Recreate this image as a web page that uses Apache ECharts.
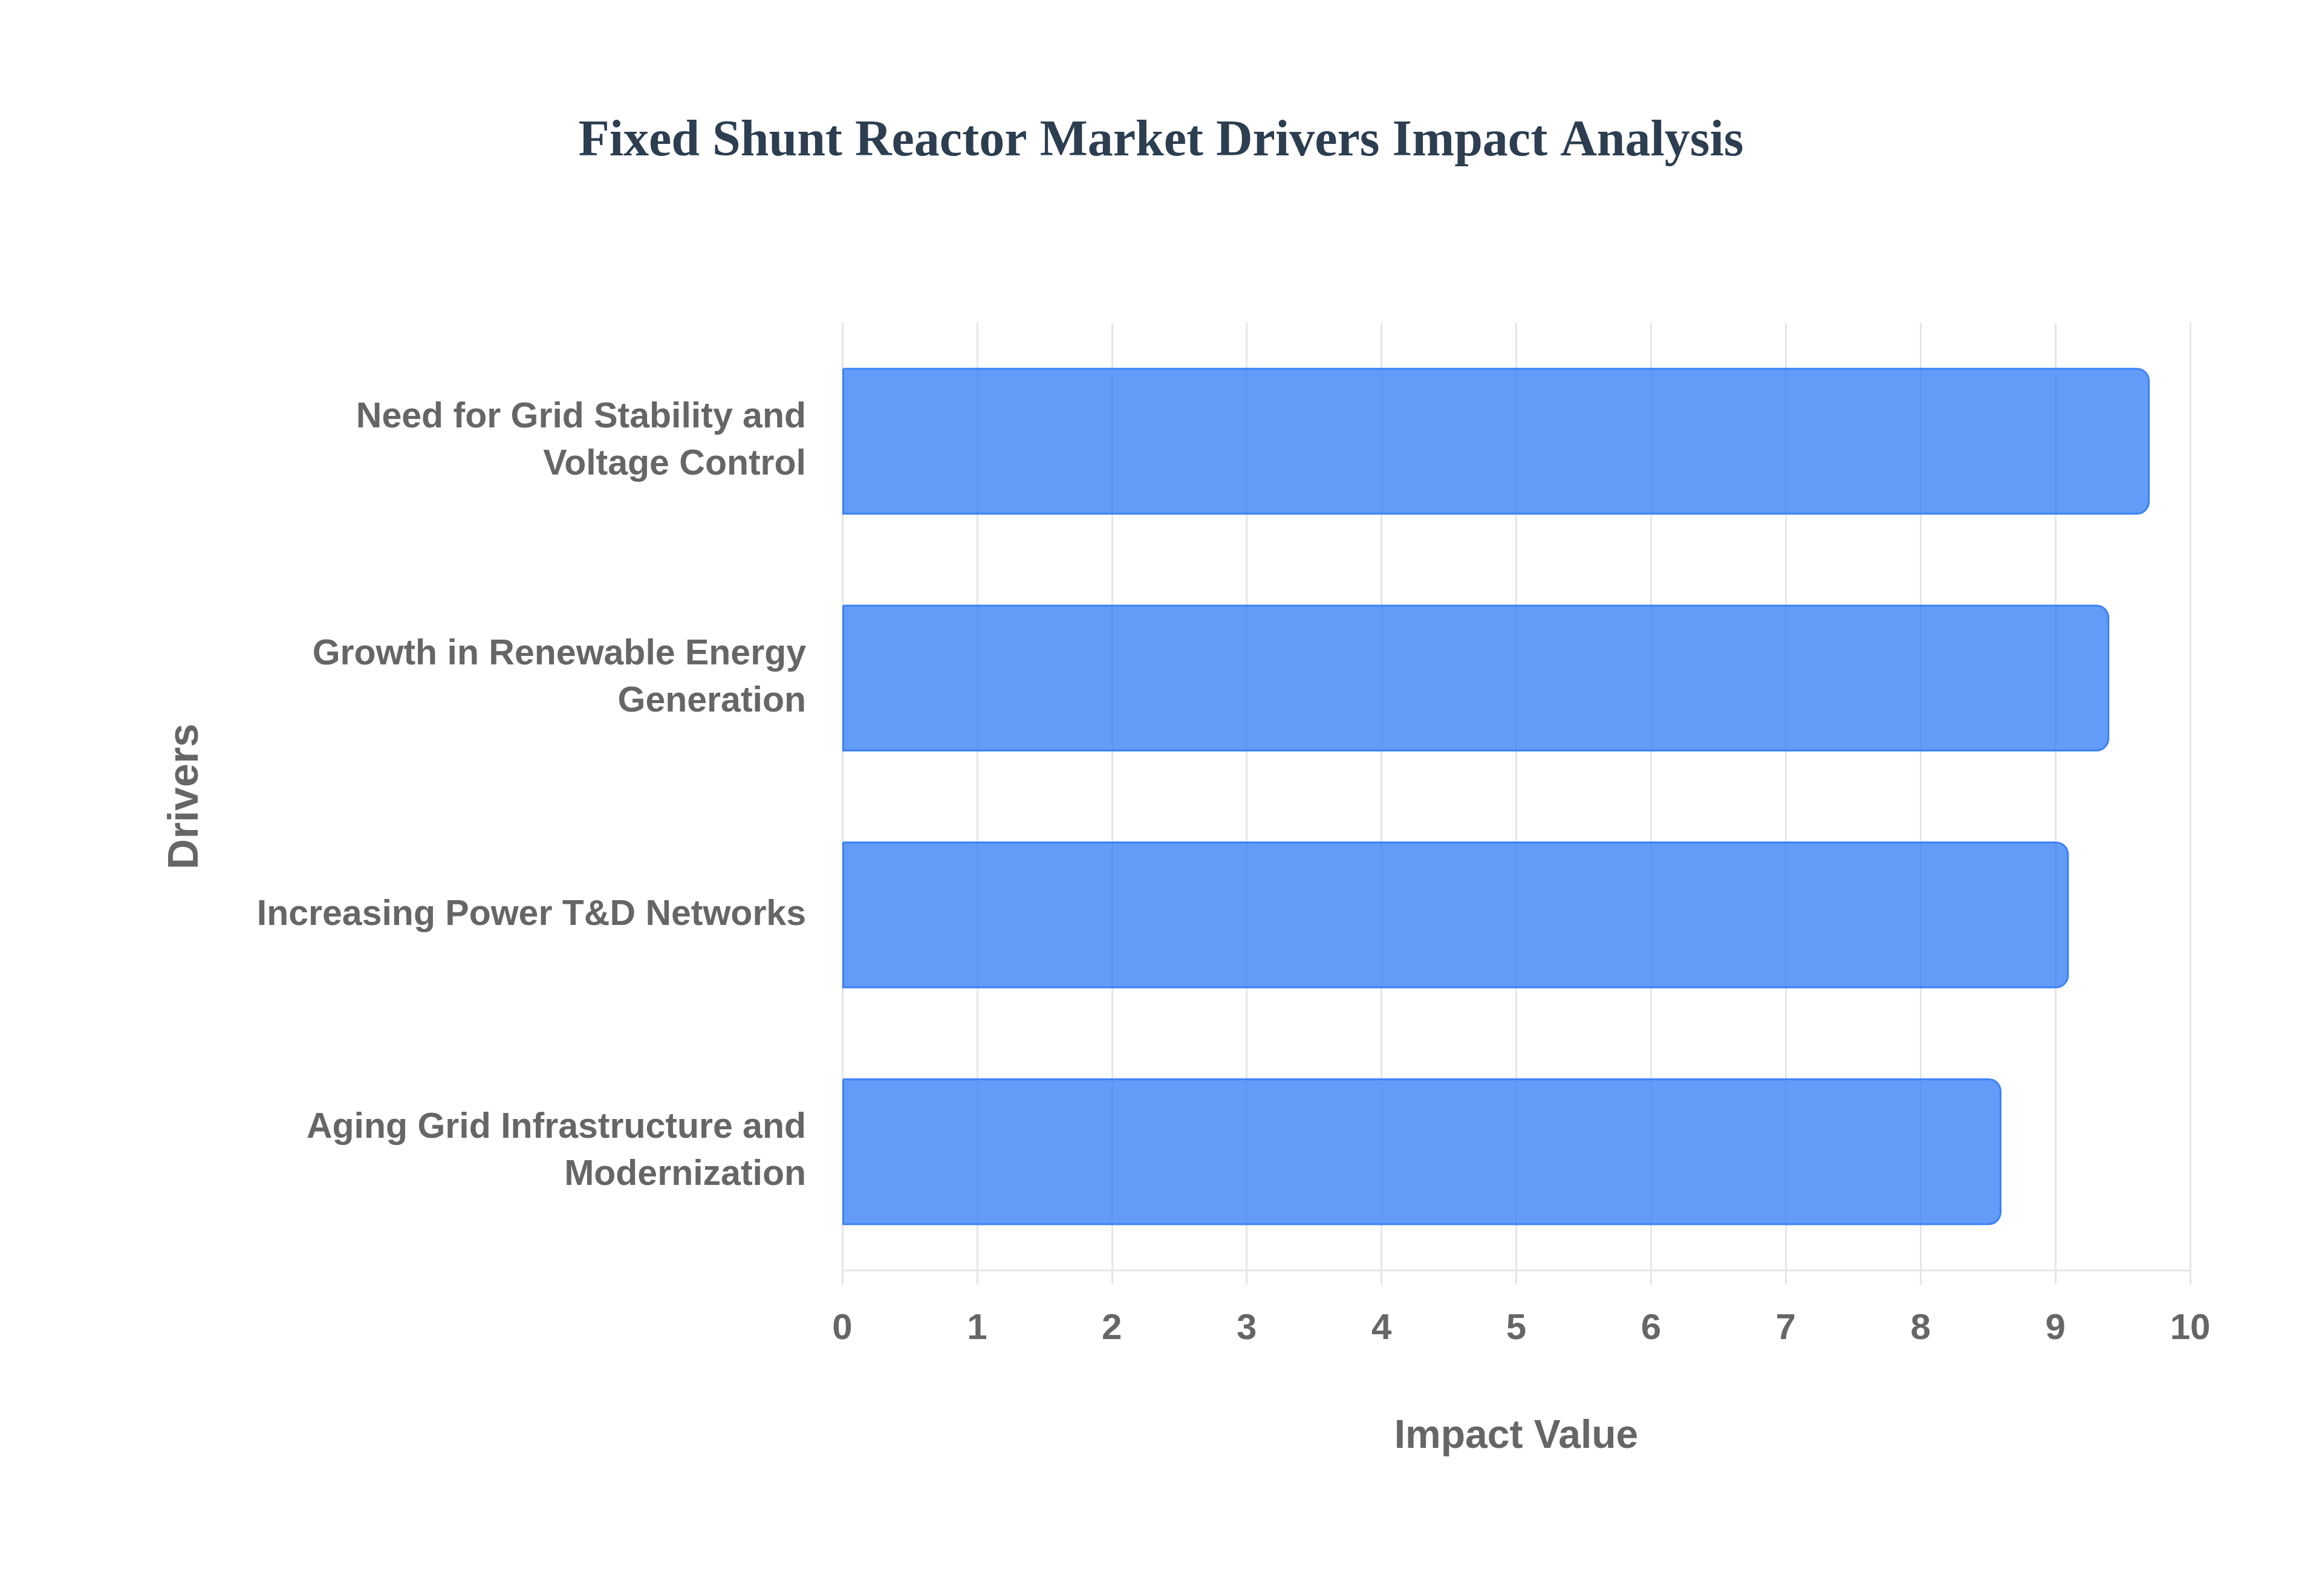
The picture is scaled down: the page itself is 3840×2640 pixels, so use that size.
<!DOCTYPE html>
<html>
<head>
<meta charset="utf-8">
<script src="https://cdn.jsdelivr.net/npm/echarts@6/dist/echarts.min.js"></script>
<style>
html,body{margin:0;padding:0;background:#fff;}
#chart{width:3840px;height:2640px;}
</style>
</head>
<body>
<div id="chart"></div>
<script>
const titleText = 'Fixed Shunt Reactor Market Drivers Impact Analysis';
const categories = [
  'Need for Grid Stability and\nVoltage Control',
  'Growth in Renewable Energy\nGeneration',
  'Increasing Power T&D Networks',
  'Aging Grid Infrastructure and\nModernization'
];
const impactValues = [9.7, 9.4, 9.1, 8.6];
const xAxisName = 'Impact Value';
const yAxisName = 'Drivers';

const chart = echarts.init(document.getElementById('chart'));
const labelColor = '#666666';
const gridColor = '#e6e6e6';
chart.setOption({
  backgroundColor: '#ffffff',
  animation: false,
  title: {
    text: titleText,
    left: 'center',
    top: 188,
    textStyle: {
      fontFamily: 'Liberation Serif',
      fontWeight: 'bold',
      fontSize: 84,
      color: '#2c3e50'
    }
  },
  grid: { left: 1393, right: 218, top: 534, bottom: 539 },
  xAxis: {
    type: 'value',
    min: 0,
    max: 10,
    interval: 1,
    name: xAxisName,
    nameLocation: 'middle',
    nameGap: 243,
    nameTextStyle: { fontFamily: 'Liberation Sans', fontWeight: 'bold', fontSize: 66, color: labelColor },
    axisLine: { show: true, lineStyle: { color: gridColor, width: 3 } },
    axisTick: { show: true, length: 24, lineStyle: { color: gridColor, width: 3 } },
    axisLabel: { margin: 67, fontFamily: 'Liberation Sans', fontWeight: 'bold', fontSize: 60, color: labelColor },
    splitLine: { show: true, lineStyle: { color: gridColor, width: 3 } }
  },
  yAxis: {
    type: 'category',
    data: categories,
    inverse: true,
    name: yAxisName,
    nameLocation: 'middle',
    nameGap: 1050,
    nameTextStyle: { fontFamily: 'Liberation Sans', fontWeight: 'bold', fontSize: 70, color: labelColor },
    axisLine: { show: true, lineStyle: { color: gridColor, width: 3 } },
    axisTick: { show: false },
    axisLabel: { margin: 60, fontFamily: 'Liberation Sans', fontWeight: 'bold', fontSize: 59, lineHeight: 78, color: labelColor, align: 'right' },
    splitLine: { show: false }
  },
  series: [{
    type: 'bar',
    data: impactValues,
    barCategoryGap: '38%',
    itemStyle: {
      color: 'rgba(59,130,246,0.8)',
      borderColor: '#3b82f6',
      borderWidth: 3,
      borderRadius: [0, 20, 20, 0]
    }
  }]
});
</script>
</body>
</html>
